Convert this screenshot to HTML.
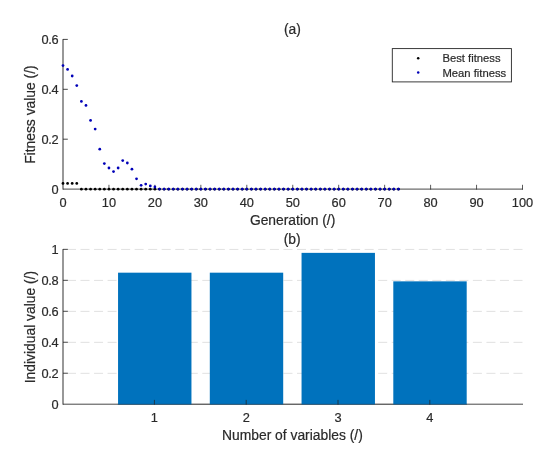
<!DOCTYPE html>
<html><head><meta charset="utf-8"><title>Figure</title>
<style>html,body{margin:0;padding:0;background:#fff;}svg{display:block;}text{font-family:"Liberation Sans",sans-serif;fill:#2a2a2a;stroke:#2a2a2a;stroke-width:0.2px;}.t{font-size:12.8px;}.l{font-size:13.85px;}.g{font-size:11.25px;}.yt{letter-spacing:-0.35px;}</style>
</head><body>
<svg width="550" height="453" viewBox="0 0 550 453">
<rect x="0" y="0" width="550" height="453" fill="#ffffff"/>
<path stroke="#262626" stroke-width="0.95" fill="none" d="M63.00 39.10 V189.60"/>
<path stroke="#262626" stroke-width="0.75" fill="none" d="M108.95 189.60 v-4.8 M154.90 189.60 v-4.8 M200.85 189.60 v-4.8 M246.80 189.60 v-4.8 M292.75 189.60 v-4.8 M338.70 189.60 v-4.8 M384.65 189.60 v-4.8 M430.60 189.60 v-4.8 M476.55 189.60 v-4.8 M522.50 189.60 v-4.8"/>
<path stroke="#262626" stroke-width="0.85" fill="none" d="M63.00 189.10 H523.00 M63.00 139.20 h4.8 M63.00 89.30 h4.8 M63.00 39.40 h4.8"/>
<g class="t" text-anchor="middle">
<text x="63.00" y="207.0">0</text>
<text x="108.95" y="207.0">10</text>
<text x="154.90" y="207.0">20</text>
<text x="200.85" y="207.0">30</text>
<text x="246.80" y="207.0">40</text>
<text x="292.75" y="207.0">50</text>
<text x="338.70" y="207.0">60</text>
<text x="384.65" y="207.0">70</text>
<text x="430.60" y="207.0">80</text>
<text x="476.55" y="207.0">90</text>
<text x="522.50" y="207.0">100</text>
</g>
<g class="t yt" text-anchor="end">
<text x="58.3" y="193.95">0</text>
<text x="58.3" y="144.05">0.2</text>
<text x="58.3" y="94.15">0.4</text>
<text x="58.3" y="44.25">0.6</text>
</g>
<g fill="#000000">
<circle cx="63.00" cy="183.40" r="1.38"/>
<circle cx="67.59" cy="183.40" r="1.38"/>
<circle cx="72.19" cy="183.40" r="1.38"/>
<circle cx="76.78" cy="183.40" r="1.38"/>
<circle cx="81.38" cy="189.20" r="1.38"/>
<circle cx="85.97" cy="189.20" r="1.38"/>
<circle cx="90.57" cy="189.20" r="1.38"/>
<circle cx="95.16" cy="189.20" r="1.38"/>
<circle cx="99.76" cy="189.20" r="1.38"/>
<circle cx="104.35" cy="189.20" r="1.38"/>
<circle cx="108.95" cy="189.20" r="1.38"/>
<circle cx="113.55" cy="189.20" r="1.38"/>
<circle cx="118.14" cy="189.20" r="1.38"/>
<circle cx="122.73" cy="189.20" r="1.38"/>
<circle cx="127.33" cy="189.20" r="1.38"/>
<circle cx="131.93" cy="189.20" r="1.38"/>
<circle cx="136.52" cy="189.20" r="1.38"/>
<circle cx="141.12" cy="189.20" r="1.38"/>
<circle cx="145.71" cy="189.20" r="1.38"/>
<circle cx="150.31" cy="189.20" r="1.38"/>
<circle cx="154.90" cy="189.20" r="1.38"/>
<circle cx="159.50" cy="189.20" r="1.38"/>
<circle cx="164.09" cy="189.20" r="1.38"/>
<circle cx="168.69" cy="189.20" r="1.38"/>
<circle cx="173.28" cy="189.20" r="1.38"/>
<circle cx="177.88" cy="189.20" r="1.38"/>
<circle cx="182.47" cy="189.20" r="1.38"/>
<circle cx="187.06" cy="189.20" r="1.38"/>
<circle cx="191.66" cy="189.20" r="1.38"/>
<circle cx="196.25" cy="189.20" r="1.38"/>
<circle cx="200.85" cy="189.20" r="1.38"/>
<circle cx="205.44" cy="189.20" r="1.38"/>
<circle cx="210.04" cy="189.20" r="1.38"/>
<circle cx="214.63" cy="189.20" r="1.38"/>
<circle cx="219.23" cy="189.20" r="1.38"/>
<circle cx="223.82" cy="189.20" r="1.38"/>
<circle cx="228.42" cy="189.20" r="1.38"/>
<circle cx="233.01" cy="189.20" r="1.38"/>
<circle cx="237.61" cy="189.20" r="1.38"/>
<circle cx="242.21" cy="189.20" r="1.38"/>
<circle cx="246.80" cy="189.20" r="1.38"/>
<circle cx="251.40" cy="189.20" r="1.38"/>
<circle cx="255.99" cy="189.20" r="1.38"/>
<circle cx="260.59" cy="189.20" r="1.38"/>
<circle cx="265.18" cy="189.20" r="1.38"/>
<circle cx="269.77" cy="189.20" r="1.38"/>
<circle cx="274.37" cy="189.20" r="1.38"/>
<circle cx="278.97" cy="189.20" r="1.38"/>
<circle cx="283.56" cy="189.20" r="1.38"/>
<circle cx="288.15" cy="189.20" r="1.38"/>
<circle cx="292.75" cy="189.20" r="1.38"/>
<circle cx="297.35" cy="189.20" r="1.38"/>
<circle cx="301.94" cy="189.20" r="1.38"/>
<circle cx="306.53" cy="189.20" r="1.38"/>
<circle cx="311.13" cy="189.20" r="1.38"/>
<circle cx="315.73" cy="189.20" r="1.38"/>
<circle cx="320.32" cy="189.20" r="1.38"/>
<circle cx="324.92" cy="189.20" r="1.38"/>
<circle cx="329.51" cy="189.20" r="1.38"/>
<circle cx="334.11" cy="189.20" r="1.38"/>
<circle cx="338.70" cy="189.20" r="1.38"/>
<circle cx="343.30" cy="189.20" r="1.38"/>
<circle cx="347.89" cy="189.20" r="1.38"/>
<circle cx="352.49" cy="189.20" r="1.38"/>
<circle cx="357.08" cy="189.20" r="1.38"/>
<circle cx="361.68" cy="189.20" r="1.38"/>
<circle cx="366.27" cy="189.20" r="1.38"/>
<circle cx="370.87" cy="189.20" r="1.38"/>
<circle cx="375.46" cy="189.20" r="1.38"/>
<circle cx="380.06" cy="189.20" r="1.38"/>
<circle cx="384.65" cy="189.20" r="1.38"/>
<circle cx="389.25" cy="189.20" r="1.38"/>
<circle cx="393.84" cy="189.20" r="1.38"/>
<circle cx="398.44" cy="189.20" r="1.38"/>
</g>
<g fill="#0000b8">
<circle cx="63.00" cy="65.60" r="1.38"/>
<circle cx="67.59" cy="69.40" r="1.38"/>
<circle cx="72.19" cy="76.00" r="1.38"/>
<circle cx="76.78" cy="85.60" r="1.38"/>
<circle cx="81.38" cy="101.40" r="1.38"/>
<circle cx="85.97" cy="105.40" r="1.38"/>
<circle cx="90.57" cy="120.40" r="1.38"/>
<circle cx="95.16" cy="129.10" r="1.38"/>
<circle cx="99.76" cy="149.20" r="1.38"/>
<circle cx="104.35" cy="163.60" r="1.38"/>
<circle cx="108.95" cy="168.00" r="1.38"/>
<circle cx="113.55" cy="171.60" r="1.38"/>
<circle cx="118.14" cy="168.00" r="1.38"/>
<circle cx="122.73" cy="160.60" r="1.38"/>
<circle cx="127.33" cy="163.00" r="1.38"/>
<circle cx="131.93" cy="169.20" r="1.38"/>
<circle cx="136.52" cy="178.80" r="1.38"/>
<circle cx="141.12" cy="185.30" r="1.38"/>
<circle cx="145.71" cy="184.10" r="1.38"/>
<circle cx="150.31" cy="185.90" r="1.38"/>
<circle cx="154.90" cy="187.00" r="1.38"/>
<circle cx="159.50" cy="189.10" r="1.38"/>
<circle cx="164.09" cy="189.10" r="1.38"/>
<circle cx="168.69" cy="189.10" r="1.38"/>
<circle cx="173.28" cy="189.10" r="1.38"/>
<circle cx="177.88" cy="189.10" r="1.38"/>
<circle cx="182.47" cy="189.10" r="1.38"/>
<circle cx="187.06" cy="189.10" r="1.38"/>
<circle cx="191.66" cy="189.10" r="1.38"/>
<circle cx="196.25" cy="189.10" r="1.38"/>
<circle cx="200.85" cy="189.10" r="1.38"/>
<circle cx="205.44" cy="189.10" r="1.38"/>
<circle cx="210.04" cy="189.10" r="1.38"/>
<circle cx="214.63" cy="189.10" r="1.38"/>
<circle cx="219.23" cy="189.10" r="1.38"/>
<circle cx="223.82" cy="189.10" r="1.38"/>
<circle cx="228.42" cy="189.10" r="1.38"/>
<circle cx="233.01" cy="189.10" r="1.38"/>
<circle cx="237.61" cy="189.10" r="1.38"/>
<circle cx="242.21" cy="189.10" r="1.38"/>
<circle cx="246.80" cy="189.10" r="1.38"/>
<circle cx="251.40" cy="189.10" r="1.38"/>
<circle cx="255.99" cy="189.10" r="1.38"/>
<circle cx="260.59" cy="189.10" r="1.38"/>
<circle cx="265.18" cy="189.10" r="1.38"/>
<circle cx="269.77" cy="189.10" r="1.38"/>
<circle cx="274.37" cy="189.10" r="1.38"/>
<circle cx="278.97" cy="189.10" r="1.38"/>
<circle cx="283.56" cy="189.10" r="1.38"/>
<circle cx="288.15" cy="189.10" r="1.38"/>
<circle cx="292.75" cy="189.10" r="1.38"/>
<circle cx="297.35" cy="189.10" r="1.38"/>
<circle cx="301.94" cy="189.10" r="1.38"/>
<circle cx="306.53" cy="189.10" r="1.38"/>
<circle cx="311.13" cy="189.10" r="1.38"/>
<circle cx="315.73" cy="189.10" r="1.38"/>
<circle cx="320.32" cy="189.10" r="1.38"/>
<circle cx="324.92" cy="189.10" r="1.38"/>
<circle cx="329.51" cy="189.10" r="1.38"/>
<circle cx="334.11" cy="189.10" r="1.38"/>
<circle cx="338.70" cy="189.10" r="1.38"/>
<circle cx="343.30" cy="189.10" r="1.38"/>
<circle cx="347.89" cy="189.10" r="1.38"/>
<circle cx="352.49" cy="189.10" r="1.38"/>
<circle cx="357.08" cy="189.10" r="1.38"/>
<circle cx="361.68" cy="189.10" r="1.38"/>
<circle cx="366.27" cy="189.10" r="1.38"/>
<circle cx="370.87" cy="189.10" r="1.38"/>
<circle cx="375.46" cy="189.10" r="1.38"/>
<circle cx="380.06" cy="189.10" r="1.38"/>
<circle cx="384.65" cy="189.10" r="1.38"/>
<circle cx="389.25" cy="189.10" r="1.38"/>
<circle cx="393.84" cy="189.10" r="1.38"/>
<circle cx="398.44" cy="189.10" r="1.38"/>
</g>
<text class="l" text-anchor="middle" x="292.4" y="33.5">(a)</text>
<text class="l" text-anchor="middle" x="292.6" y="225">Generation (/)</text>
<text class="l" text-anchor="middle" transform="translate(34.6 114.6) rotate(-90)">Fitness value (/)</text>
<rect x="392.3" y="48.6" width="119.1" height="33.3" fill="#ffffff" stroke="#262626" stroke-width="0.9"/>
<circle cx="418.2" cy="58.2" r="1.25" fill="#000000"/>
<circle cx="418.2" cy="72.6" r="1.25" fill="#0000b8"/>
<text class="g" x="442.4" y="62.2">Best fitness</text>
<text class="g" x="442.4" y="76.6">Mean fitness</text>
<g stroke="#dedede" stroke-width="0.9" stroke-dasharray="9 4.53" fill="none">
<path d="M67.00 373.33 H522.50"/>
<path d="M67.00 342.36 H522.50"/>
<path d="M67.00 311.39 H522.50"/>
<path d="M67.00 280.42 H522.50"/>
<path d="M67.00 249.45 H522.50"/>
</g>
<path stroke="#262626" stroke-width="0.85" fill="none" d="M63.00 404.20 H523.00"/>
<g fill="#0072bd">
<rect x="118.05" y="272.68" width="73.40" height="131.82"/>
<rect x="209.80" y="272.68" width="73.40" height="131.82"/>
<rect x="301.55" y="252.86" width="73.40" height="151.64"/>
<rect x="393.30" y="281.35" width="73.40" height="123.15"/>
</g>
<path stroke="#262626" stroke-opacity="0.4" stroke-width="0.9" fill="none" d="M117.75 404.30 H467.00"/>
<path stroke="#262626" stroke-width="0.95" fill="none" d="M63.00 249.05 V404.70"/>
<path stroke="#262626" stroke-width="0.75" fill="none" d="M154.40 404.70 v-4.8 M246.20 404.70 v-4.8 M338.00 404.70 v-4.8 M429.80 404.70 v-4.8"/>
<path stroke="#262626" stroke-width="0.85" fill="none" d="M63.00 373.23 h4.8 M63.00 342.26 h4.8 M63.00 311.29 h4.8 M63.00 280.32 h4.8 M63.00 249.35 h4.8"/>
<g class="t" text-anchor="middle">
<text x="154.40" y="421.8">1</text>
<text x="246.20" y="421.8">2</text>
<text x="338.00" y="421.8">3</text>
<text x="429.80" y="421.8">4</text>
</g>
<g class="t yt" text-anchor="end">
<text x="58.3" y="409.05">0</text>
<text x="58.3" y="378.08">0.2</text>
<text x="58.3" y="347.11">0.4</text>
<text x="58.3" y="316.14">0.6</text>
<text x="58.3" y="285.17">0.8</text>
<text x="58.3" y="254.20">1</text>
</g>
<text class="l" text-anchor="middle" x="292.2" y="243.5">(b)</text>
<text class="l" text-anchor="middle" x="292.4" y="439.7">Number of variables (/)</text>
<text class="l" text-anchor="middle" transform="translate(34.6 327.1) rotate(-90)">Individual value (/)</text>
</svg>
</body></html>
